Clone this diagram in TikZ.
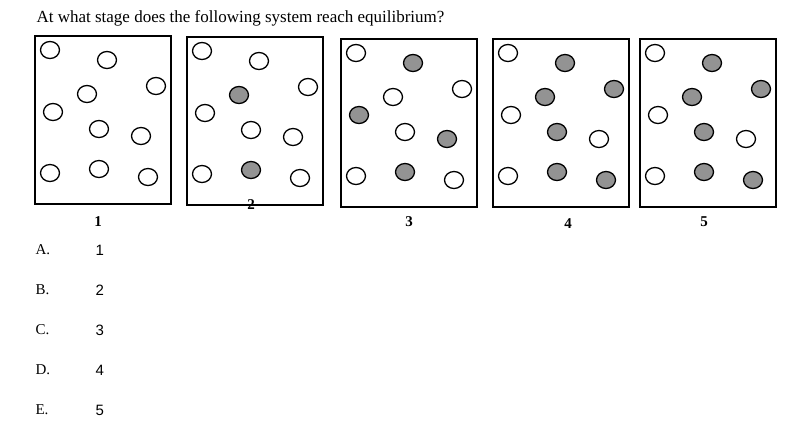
\documentclass[tikz,border=0pt]{standalone}
\usepackage{fontspec}
\usetikzlibrary{shapes.geometric}
\setmainfont{Liberation Serif}
\newfontfamily\sansf{Liberation Sans}
\begin{document}
\begin{tikzpicture}[x=1pt,y=-1pt,
  frame/.style={draw,line width=1.6pt},
  wp/.style={draw,line width=1.3pt,fill=white,ellipse,minimum width=19pt,minimum height=17pt,inner sep=0pt},
  gp/.style={wp,fill=gray!85},
  lab/.style={font=\bfseries\fontsize{15}{15}\selectfont},
  ans/.style={font=\fontsize{15}{15}\selectfont,anchor=west}]
\useasboundingbox (0,0) rectangle (800,426);
\node[anchor=west,font=\fontsize{17}{17}\selectfont] (title) at (33,18) {At what stage does the following system reach equilibrium?};
\def\offs{{15,72,52,121,18,64,106,15,64,113}}
\def\offy{{14,24,58,50,76,93,100,137,133,141}}
\foreach \bx/\by/\n/\fl/\lx/\ly in {35/36/1/{0,0,0,0,0,0,0,0,0,0}/98/222, 187/37/2/{0,0,1,0,0,0,0,0,1,0}/251/205, 341/39/3/{0,1,0,0,1,0,1,0,1,0}/409/222, 493/39/4/{0,1,1,1,0,1,0,0,1,1}/568/224, 640/39/5/{0,1,1,1,0,1,0,0,1,1}/704/222}{
  \draw[frame] (\bx,\by) rectangle ++(136,168);
  \edef\flist{{\fl}}
  \foreach \i in {0,...,9}{
    \pgfmathparse{\offs[\i]}\let\ox\pgfmathresult
    \pgfmathparse{\offy[\i]}\let\oy\pgfmathresult
    \pgfmathparse{int(\flist[\i])}\let\f\pgfmathresult
    \ifnum\f=1 \node[gp] (p\n-\i) at (\bx+\ox,\by+\oy) {};
    \else \node[wp] (p\n-\i) at (\bx+\ox,\by+\oy) {}; \fi
  }
  \node[lab] (l\n) at (\lx,\ly) {\n};
}
\foreach \L/\v/\y in {A/1/250,B/2/290,C/3/330,D/4/370,E/5/410}{
  \node[ans] (o\L) at (32,\y) {\L.};
  \node[ans,font=\sansf\fontsize{15}{15}\selectfont] (v\L) at (92,\y) {\v};
}
\end{tikzpicture}
\end{document}
